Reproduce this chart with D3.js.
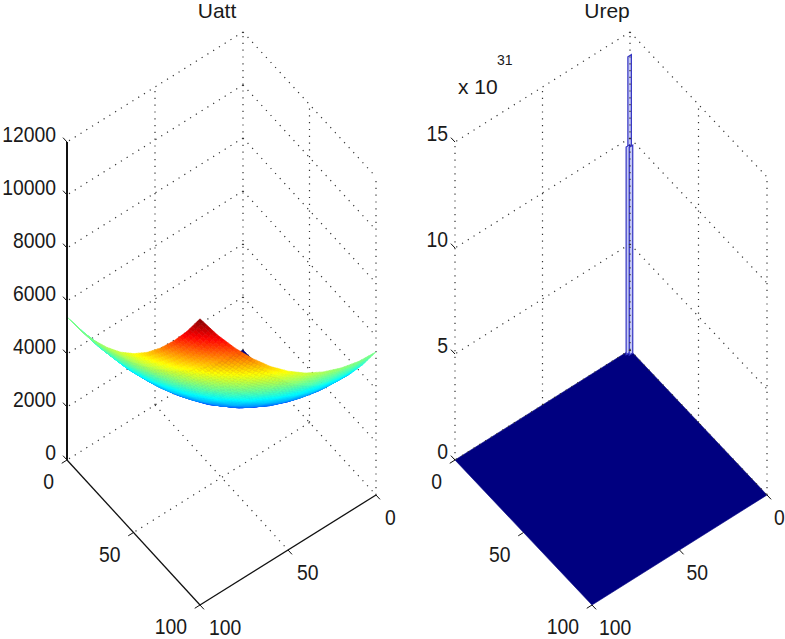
<!DOCTYPE html>
<html>
<head>
<meta charset="utf-8">
<script src="https://cdn.jsdelivr.net/npm/d3@7"></script>
<style>
  body { margin: 0; background: #fff; }
  text { font-family: "Liberation Sans", Arial, sans-serif; fill: #1a1a1a; }
</style>
</head>
<body>
<script>
// ---- data ----
var xyTicks = [0, 50, 100];
var attZTicks = [0, 2000, 4000, 6000, 8000, 10000, 12000];
var repZTicks = [0, 5, 10, 15];          // x 10^31
var repExponent = "31";

// Uatt surface, rows = x, columns = y
var gridPts = [0, 10, 20, 30, 40, 50, 60, 70, 80, 90, 100];
var uatt = [
  [0, 50, 220, 490, 860, 1350, 1940, 2650, 3460, 4370, 5400],
  [50, 110, 270, 540, 920, 1400, 2000, 2700, 3510, 4430, 5450],
  [220, 270, 430, 700, 1080, 1570, 2160, 2860, 3670, 4590, 5620],
  [490, 540, 700, 970, 1350, 1840, 2430, 3130, 3940, 4860, 5890],
  [860, 920, 1080, 1350, 1730, 2210, 2810, 3510, 4320, 5240, 6260],
  [1350, 1400, 1570, 1840, 2210, 2700, 3290, 4000, 4810, 5720, 6750],
  [1940, 2000, 2160, 2430, 2810, 3290, 3890, 4590, 5400, 6320, 7340],
  [2650, 2700, 2860, 3130, 3510, 4000, 4590, 5290, 6100, 7020, 8050],
  [3460, 3510, 3670, 3940, 4320, 4810, 5400, 6100, 6910, 7830, 8860],
  [4370, 4430, 4590, 4860, 5240, 5720, 6320, 7020, 7830, 8750, 9770],
  [5400, 5450, 5620, 5890, 6260, 6750, 7340, 8050, 8860, 9770, 10800]
];

// Urep: flat zero floor plus a spike next to the obstacle (x 10^31)
var repGridPts = [0, 100];
var urepBase = [
  [0, 0],
  [0, 0]
];
var repSpikeX = [1, 2, 1];
var repSpikeY = [1, 1, 2];
var repSpikeZ = [14.0, 9.8, 9.8];

// ---- setup ----
var svgWidth = 785, svgHeight = 639;
var svg = d3.select("body").append("svg")
  .attr("width", svgWidth)
  .attr("height", svgHeight);

var jetStops = [0, 0.125, 0.375, 0.625, 0.875, 1];
var jetColors = ["#000080", "#0000ff", "#00ffff", "#ffff00", "#ff0000", "#800000"];
function jetScale(zmin, zmax) {
  return d3.scaleLinear()
    .domain(jetStops.map(function(s) { return zmin + s * (zmax - zmin); }))
    .range(jetColors)
    .clamp(true);
}

var line = d3.line();

// orthographic projection of the plot box, fitted to the box corners
function makePanel(cfg) {
  var u = d3.scaleLinear().domain([0, 100]).range([0, 1]);
  var w = d3.scaleLinear().domain([0, cfg.zmax]).range([0, 1]);
  var ex = [cfg.right[0] - cfg.back[0], cfg.right[1] - cfg.back[1]];
  var ey = [cfg.left[0] - cfg.back[0], cfg.left[1] - cfg.back[1]];
  var k = [-ey[0] * cfg.h, ex[0] * cfg.h, ex[0] * ey[1] - ey[0] * ex[1]];
  return {
    proj: function(x, y, z) {
      var a = u(x), b = u(y), c = w(z);
      return [cfg.back[0] + a * ex[0] + b * ey[0],
              cfg.back[1] + a * ex[1] + b * ey[1] - c * cfg.h];
    },
    depth: function(x, y, z) {
      return k[0] * u(x) + k[1] * u(y) + k[2] * w(z);
    },
    g: svg.append("g")
  };
}

function dotted(g, a, b) {
  g.append("line")
    .attr("x1", a[0]).attr("y1", a[1])
    .attr("x2", b[0]).attr("y2", b[1])
    .attr("stroke", "#333")
    .attr("stroke-width", 1.2)
    .attr("stroke-dasharray", "1.2,5.6");
}

function solid(g, a, b, width) {
  g.append("line")
    .attr("x1", a[0]).attr("y1", a[1])
    .attr("x2", b[0]).attr("y2", b[1])
    .attr("stroke", "#111")
    .attr("stroke-width", width);
}

// tick labels: slightly condensed like the original
function tickLabels(g, data, anchor, pos) {
  g.append("g").selectAll("text")
    .data(data)
    .enter()
    .append("text")
    .attr("transform", function(d) {
      var p = pos(d);
      return "translate(" + p[0] + "," + p[1] + ") scale(0.88,1)";
    })
    .attr("text-anchor", anchor)
    .style("font-size", "22px")
    .text(function(d) { return d; });
}

function drawWalls(p, cfg) {
  var g = p.g.append("g");
  cfg.zTicks.forEach(function(z) {
    dotted(g, p.proj(0, 0, z), p.proj(0, 100, z));
    dotted(g, p.proj(0, 0, z), p.proj(100, 0, z));
  });
  xyTicks.forEach(function(t) {
    dotted(g, p.proj(0, t, 0), p.proj(0, t, cfg.zmax));
    if (t > 0) dotted(g, p.proj(t, 0, 0), p.proj(t, 0, cfg.zmax));
  });
}

function drawFloorGrid(p) {
  var g = p.g.append("g");
  xyTicks.forEach(function(t) {
    if (t > 0 && t < 100) {
      dotted(g, p.proj(t, 0, 0), p.proj(t, 100, 0));
      dotted(g, p.proj(0, t, 0), p.proj(100, t, 0));
    }
  });
}

// surface of quads, painted back to front
function drawSurface(p, xs, ys, zz, color, sub) {
  var polys = [];
  for (var i = 0; i < xs.length - 1; i++) {
    for (var j = 0; j < ys.length - 1; j++) {
      var z00 = zz[i][j], z10 = zz[i + 1][j], z01 = zz[i][j + 1], z11 = zz[i + 1][j + 1];
      for (var s = 0; s < sub; s++) {
        for (var t = 0; t < sub; t++) {
          var corners = [[s, t], [s + 1, t], [s + 1, t + 1], [s, t + 1]].map(function(c) {
            var fs = c[0] / sub, ft = c[1] / sub;
            var x = xs[i] + (xs[i + 1] - xs[i]) * fs;
            var y = ys[j] + (ys[j + 1] - ys[j]) * ft;
            var z = z00 * (1 - fs) * (1 - ft) + z10 * fs * (1 - ft) + z01 * (1 - fs) * ft + z11 * fs * ft;
            return [x, y, z];
          });
          var cx = d3.mean(corners, function(c) { return c[0]; });
          var cy = d3.mean(corners, function(c) { return c[1]; });
          var cz = d3.mean(corners, function(c) { return c[2]; });
          polys.push({
            pts: corners.map(function(c) { return p.proj(c[0], c[1], c[2]); }),
            depth: p.depth(cx, cy, cz),
            fill: color(cz)
          });
        }
      }
    }
  }
  polys.sort(function(a, b) { return a.depth - b.depth; });
  p.g.append("g").selectAll("path")
    .data(polys)
    .enter()
    .append("path")
    .attr("d", function(d) { return line(d.pts) + "Z"; })
    .attr("fill", function(d) { return d.fill; })
    .attr("stroke", function(d) { return d.fill; })
    .attr("stroke-width", 0.6)
    .attr("stroke-linejoin", "round");
}

function drawAxes(p, cfg) {
  var g = p.g.append("g");
  if (cfg.solidFront) {
    solid(g, p.proj(0, 100, 0), p.proj(100, 100, 0), 1.3);
    solid(g, p.proj(100, 0, 0), p.proj(100, 100, 0), 1.3);
  }
  if (cfg.solidZ) solid(g, p.proj(0, 100, 0), p.proj(0, 100, cfg.zmax), 2);

  // ticks
  cfg.zTicks.forEach(function(z) {
    solid(g, p.proj(0, 100, z), p.proj(-3, 100, z), 1);
  });
  xyTicks.forEach(function(t) {
    solid(g, p.proj(t, 100, 0), p.proj(t, 103, 0), 1);
    solid(g, p.proj(100, t, 0), p.proj(103, t, 0), 1);
  });

  tickLabels(g, cfg.zTicks, "end", function(d) {
    var q = p.proj(0, 100, d);
    return [q[0] + cfg.zLabelDx, q[1] + cfg.zLabelDy];
  });
  tickLabels(g, xyTicks, "end", function(d) {
    var q = p.proj(d, 100, 0);
    return [q[0] - 13, q[1] + 29];
  });
  tickLabels(g, xyTicks, "start", function(d) {
    var q = p.proj(100, d, 0);
    return [q[0] + cfg.yLabelDx, q[1] + 30];
  });

  g.append("text")
    .attr("x", cfg.titleX)
    .attr("y", 18)
    .attr("text-anchor", "middle")
    .style("font-size", "21px")
    .text(cfg.title);
}

// ---- left: Uatt ----
var attCfg = {
  back: [243, 350], left: [67, 460], right: [376, 495], h: 318,
  zmax: 12000, zTicks: attZTicks, solidZ: true, solidFront: true,
  zLabelDx: -11, zLabelDy: 0, yLabelDx: 9, title: "Uatt", titleX: 217
};
var att = makePanel(attCfg);
drawWalls(att, attCfg);
drawFloorGrid(att);
var attColor = jetScale(d3.min(uatt, function(r) { return d3.min(r); }),
                        d3.max(uatt, function(r) { return d3.max(r); }));
drawSurface(att, gridPts, gridPts, uatt, attColor, 5);
drawAxes(att, attCfg);

// ---- right: Urep ----
var repCfg = {
  back: [630, 350], left: [455, 460], right: [767, 495], h: 318,
  zmax: 15, zTicks: repZTicks, solidZ: false, solidFront: false,
  zLabelDx: -7, zLabelDy: -1, yLabelDx: 7, title: "Urep", titleX: 607
};
var rep = makePanel(repCfg);
drawFloorGrid(rep);
var repColor = jetScale(0, d3.max(repSpikeZ));
drawSurface(rep, repGridPts, repGridPts, urepBase, repColor, 1);

// spikes, drawn back to front
var spikes = repSpikeX.map(function(x, i) {
  return { x: x, y: repSpikeY[i], z: repSpikeZ[i] };
});
spikes.sort(function(a, b) { return rep.depth(a.x, a.y, 0) - rep.depth(b.x, b.y, 0); });
rep.g.append("g").selectAll("path")
  .data(spikes)
  .enter()
  .append("path")
  .attr("d", function(d) {
    return line([
      rep.proj(d.x, d.y + 1, 0), rep.proj(d.x, d.y + 1, d.z),
      rep.proj(d.x, d.y - 1, d.z), rep.proj(d.x, d.y - 1, 0)
    ]) + "Z";
  })
  .attr("fill", "#c4c8f4")
  .attr("stroke", "#3434c4")
  .attr("stroke-width", 1.2);

drawWalls(rep, repCfg);
drawAxes(rep, repCfg);

// exponent label
rep.g.append("text")
  .attr("x", 458)
  .attr("y", 94)
  .style("font-size", "21px")
  .text("x 10");
rep.g.append("text")
  .attr("x", 497)
  .attr("y", 65)
  .style("font-size", "14px")
  .text(repExponent);
</script>
</body>
</html>
